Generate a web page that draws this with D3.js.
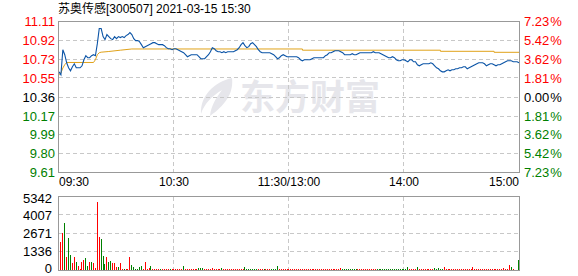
<!DOCTYPE html>
<html>
<head>
<meta charset="utf-8">
<script src="https://cdn.jsdelivr.net/npm/d3@7"></script>
<style>
  body { margin: 0; background: #fff; }
  svg { display: block; }
  text { font-family: "Liberation Sans", Arial, "Noto Sans CJK SC", sans-serif; }
</style>
</head>
<body>
<svg id="chart" width="578" height="276"></svg>
<script>
var title = "苏奥传感[300507] 2021-03-15 15:30";
var prevClose = 10.36;
var priceTicks = [11.11, 10.92, 10.73, 10.55, 10.36, 10.17, 9.99, 9.80, 9.61];
var pctTicks = ["7.23", "5.42", "3.62", "1.81", "0.00", "1.81", "3.62", "5.42", "7.23"];
var volTicks = [0, 1336, 2671, 4007, 5342];
var timeTicks = [0, 60, 120, 180, 240];
var timeLabels = ["09:30", "10:30", "11:30/13:00", "14:00", "15:00"];

// one price per minute, 09:30 .. 15:00 (241 points)
var prices = [
  10.61, 10.58, 10.83, 10.78, 10.70, 10.65, 10.62, 10.66, 10.69, 10.65,
  10.65, 10.65, 10.67, 10.73, 10.77, 10.75, 10.75, 10.77, 10.78, 10.77,
  10.89, 11.04, 11.04, 10.96, 10.93, 10.98, 10.96, 10.94, 10.93, 10.96,
  10.94, 10.96, 10.95, 10.96, 10.95, 10.97, 10.98, 11.00, 10.98, 10.94,
  10.92, 10.92, 10.91, 10.88, 10.85, 10.86, 10.87, 10.88, 10.89, 10.90,
  10.90, 10.89, 10.88, 10.88, 10.88, 10.87, 10.85, 10.84, 10.84, 10.83,
  10.84, 10.84, 10.83, 10.82, 10.81, 10.80, 10.78, 10.76, 10.77, 10.78,
  10.78, 10.78, 10.78, 10.76, 10.74, 10.74, 10.74, 10.76, 10.78, 10.81,
  10.85, 10.84, 10.82, 10.81, 10.81, 10.80, 10.81, 10.80, 10.81, 10.81,
  10.81, 10.81, 10.82, 10.83, 10.85, 10.88, 10.90, 10.87, 10.85, 10.86,
  10.89, 10.90, 10.88, 10.86, 10.83, 10.81, 10.80, 10.80, 10.80, 10.80,
  10.80, 10.79, 10.78, 10.76, 10.74, 10.75, 10.77, 10.78, 10.77, 10.76,
  10.76, 10.76, 10.76, 10.76, 10.76, 10.75, 10.73, 10.72, 10.73, 10.73,
  10.73, 10.73, 10.74, 10.75, 10.75, 10.75, 10.75, 10.75, 10.75, 10.77,
  10.78, 10.80, 10.80, 10.81, 10.82, 10.82, 10.82, 10.81, 10.80, 10.78,
  10.78, 10.78, 10.78, 10.79, 10.78, 10.78, 10.79, 10.80, 10.80, 10.80,
  10.80, 10.80, 10.80, 10.80, 10.81, 10.80, 10.80, 10.80, 10.79, 10.78,
  10.77, 10.76, 10.75, 10.75, 10.76, 10.75, 10.73, 10.72, 10.72, 10.73,
  10.73, 10.72, 10.71, 10.73, 10.73, 10.71, 10.71, 10.68, 10.67, 10.68,
  10.69, 10.69, 10.69, 10.69, 10.70, 10.69, 10.67, 10.65, 10.64, 10.62,
  10.61, 10.61, 10.62, 10.63, 10.62, 10.63, 10.63, 10.64, 10.64, 10.65,
  10.65, 10.66, 10.66, 10.64, 10.65, 10.66, 10.67, 10.68, 10.69, 10.70,
  10.70, 10.70, 10.69, 10.67, 10.68, 10.69, 10.69, 10.68, 10.67, 10.68,
  10.68, 10.69, 10.70, 10.71, 10.72, 10.72, 10.72, 10.71, 10.71, 10.71,
  10.70
];

// average price line, read as [minute, price] turning points
var avgPoints = [
  [0, 10.575], [1, 10.598], [2, 10.648], [3, 10.681], [4, 10.703],
  [18, 10.703], [19, 10.73], [20, 10.78], [21, 10.80], [22, 10.805],
  [26, 10.812], [32, 10.825], [38, 10.837], [127, 10.837], [127, 10.825],
  [199, 10.825], [199, 10.814], [227, 10.814], [227, 10.804], [240, 10.804]
];

var volumes = [
  2500, 2000, 2671, 3393, 917, 2310, 1083, 505, 939, 554,
  313, 72, 554, 722, 866, 289, 578, 578, 505, 110,
  4910, 2400, 2230, 1011, 433, 915, 600, 650, 505, 505,
  240, 240, 505, 72, 72, 72, 50, 939, 385, 190,
  96, 96, 240, 313, 60, 578, 72, 144, 289, 72,
  60, 55, 70, 48, 65, 58, 72, 50, 66, 54,
  62, 70, 52, 68, 57, 289, 64, 50, 71, 60,
  55, 66, 60, 144, 150, 140, 58, 62, 50, 70,
  120, 60, 55, 67, 52, 120, 63, 58, 70, 54,
  61, 56, 68, 50, 64, 59, 72, 193, 66, 74,
  80, 70, 62, 76, 68, 58, 72, 64, 55, 70,
  66, 60, 74, 62, 289, 58, 66, 52, 70, 60,
  64, 58, 70, 55, 66, 60, 52, 68, 62, 57,
  70, 54, 66, 60, 58, 72, 50, 64, 61, 56,
  66, 60, 55, 68, 62, 58, 70, 120, 64, 58,
  62, 70, 56, 66, 60, 52, 68, 60, 64, 58,
  66, 54, 62, 70, 58, 64, 60, 56, 68, 62,
  58, 66, 60, 72, 54, 64, 62, 58, 70, 60,
  66, 58, 193, 64, 60, 70, 62, 193, 58, 66,
  60, 64, 56, 68, 62, 58, 110, 100, 120, 95,
  62, 193, 70, 58, 66, 60, 54, 68, 62, 58,
  64, 60, 70, 56, 62, 58, 193, 66, 60, 54,
  68, 62, 58, 64, 60, 70, 56, 66, 62, 58,
  64, 100, 110, 95, 105, 361, 193, 50, 0, 0,
  722
];
// r = up bar, g = down bar
var volColors =
  "rrrgrggrrg" + "rrrrggrgrr" + "rrgggrggrr" + "rgrrgrrrgg" + "ggggrrrrgr" +
  "rrrgrrrrgr" + "rrrrrgrrrr" + "rrrgggrrrr" + "rrrrrgrrrr" + "rrrrrrrggg" +
  "ggggrrrgrr" + "rggggrrrrr" + "rrrrrrrrrr" + "rrrrrrrrrr" + "rrrrrrrrgg" +
  "ggggggrrrr" + "rrrrrrgggg" + "gggggggggg" + "gggrrrrgrr" + "rrrrrrgggg" +
  "grrrrrrrrr" + "rrrrrrrrrr" + "rrrrrrrrrr" + "rrrrrrgrrr" + "g";

var RED = "#ff0000", GREEN = "#008000", DARK = "#000000";

var svg = d3.select("#chart");
var x = d3.scaleLinear().domain([0, 240]).range([59, 519]);
var y = d3.scaleLinear().domain([9.61, 11.11]).range([172.5, 21.5]);
var yv = d3.scaleLinear().domain([0, 5342]).range([270, 196.5]);

function crisp(v) { return Math.floor(v) + 0.5; }

// title
svg.append("text")
    .attr("x", 58)
    .attr("y", 13)
    .attr("font-size", "12px")
    .attr("fill", DARK)
    .text(title);

// watermark
var wm = svg.append("g").attr("fill", "#e6e6eb");
wm.append("path")
    .attr("d", "M232,78 C214,82 200,96 201,114 C204,104 212,96 222,90 C216,98 211,106 210,116 C224,106 234,94 232,78 Z");
wm.append("text")
    .attr("x", 240)
    .attr("y", 110)
    .attr("font-size", "35px")
    .attr("font-weight", "bold")
    .style("font-family", "'Noto Sans CJK SC', sans-serif")
    .text("东方财富");

// price grid
var grid = svg.append("g")
    .attr("stroke", "#c8c8c8")
    .attr("stroke-dasharray", "4,3")
    .attr("shape-rendering", "crispEdges");
grid.selectAll("line.h")
    .data(priceTicks.slice(1, -1))
    .enter()
    .append("line")
      .attr("class", "h")
      .attr("x1", 59).attr("x2", 519)
      .attr("y1", function(d){ return crisp(y(d)); })
      .attr("y2", function(d){ return crisp(y(d)); });
grid.selectAll("line.v")
    .data(timeTicks.slice(1, -1))
    .enter()
    .append("line")
      .attr("class", "v")
      .attr("x1", function(d){ return x(d) - 0.5; })
      .attr("x2", function(d){ return x(d) - 0.5; })
      .attr("y1", 22).attr("y2", 172);

// average line and price line
svg.append("path")
    .datum(avgPoints)
    .attr("fill", "none")
    .attr("stroke", "#e0a21a")
    .attr("stroke-width", 1)
    .attr("d", d3.line()
      .x(function(d){ return x(d[0]); })
      .y(function(d){ return y(d[1]); }));
svg.append("path")
    .datum(prices)
    .attr("fill", "none")
    .attr("stroke", "#0b54a6")
    .attr("stroke-width", 1.1)
    .attr("d", d3.line()
      .x(function(d, i){ return x(i); })
      .y(function(d){ return y(d); }));

// price frame
svg.append("rect")
    .attr("x", 58.5).attr("y", 21.5)
    .attr("width", 461).attr("height", 151)
    .attr("fill", "none")
    .attr("stroke", "#999999")
    .attr("shape-rendering", "crispEdges");

function tickColor(i) {
  if (i < 4) return RED;
  if (i > 4) return GREEN;
  return DARK;
}

// left price labels
svg.append("g").selectAll("text")
    .data(priceTicks)
    .enter()
    .append("text")
      .attr("x", 55)
      .attr("y", function(d){ return y(d); })
      .attr("dy", "0.36em")
      .attr("text-anchor", "end")
      .attr("font-size", "13px")
      .attr("fill", function(d, i){ return tickColor(i); })
      .text(function(d){ return d.toFixed(2); });

// right percent labels
var pct = svg.append("g").selectAll("text")
    .data(pctTicks)
    .enter()
    .append("text")
      .attr("x", 524)
      .attr("y", function(d, i){ return y(priceTicks[i]); })
      .attr("dy", "0.36em")
      .attr("font-size", "13px")
      .attr("fill", function(d, i){ return tickColor(i); });
pct.append("tspan").text(function(d){ return d; });
pct.append("tspan").attr("dx", 1).text("%");

// time labels
svg.append("g").selectAll("text")
    .data(timeTicks)
    .enter()
    .append("text")
      .attr("x", function(d){ return x(d); })
      .attr("y", 182)
      .attr("dy", "0.36em")
      .attr("font-size", "12px")
      .attr("fill", DARK)
      .attr("text-anchor", function(d, i){
        if (i == 0) return "start";
        if (i == timeTicks.length - 1) return "end";
        return "middle";
      })
      .text(function(d, i){ return timeLabels[i]; });

// volume grid
var vgrid = svg.append("g")
    .attr("stroke", "#c8c8c8")
    .attr("stroke-dasharray", "4,3")
    .attr("shape-rendering", "crispEdges");
vgrid.selectAll("line.h")
    .data(volTicks.slice(1, -1))
    .enter()
    .append("line")
      .attr("class", "h")
      .attr("x1", 59).attr("x2", 519)
      .attr("y1", function(d){ return crisp(yv(d)); })
      .attr("y2", function(d){ return crisp(yv(d)); });
vgrid.selectAll("line.v")
    .data(timeTicks.slice(1, -1))
    .enter()
    .append("line")
      .attr("class", "v")
      .attr("x1", function(d){ return x(d) - 0.5; })
      .attr("x2", function(d){ return x(d) - 0.5; })
      .attr("y1", 197).attr("y2", 270);

// volume bars
svg.append("g")
    .attr("shape-rendering", "crispEdges")
    .selectAll("rect")
    .data(volumes)
    .enter()
    .append("rect")
      .attr("x", function(d, i){ return Math.ceil(x(i)) - 1; })
      .attr("width", 1)
      .attr("y", function(d){ return d > 0 ? Math.min(yv(d), 269) : 270; })
      .attr("height", function(d){ return d > 0 ? Math.max(1, 270 - yv(d)) : 0; })
      .attr("fill", function(d, i){ return volColors[i] == "g" ? GREEN : RED; });

// volume frame
svg.append("rect")
    .attr("x", 58.5).attr("y", 196.5)
    .attr("width", 461).attr("height", 74)
    .attr("fill", "none")
    .attr("stroke", "#999999")
    .attr("shape-rendering", "crispEdges");

// volume labels
svg.append("g").selectAll("text")
    .data(volTicks)
    .enter()
    .append("text")
      .attr("x", 52)
      .attr("y", function(d){ return Math.min(Math.max(yv(d), 198.5), 268.5); })
      .attr("dy", "0.36em")
      .attr("text-anchor", "end")
      .attr("font-size", "13px")
      .attr("fill", DARK)
      .text(function(d){ return d; });
</script>
</body>
</html>
